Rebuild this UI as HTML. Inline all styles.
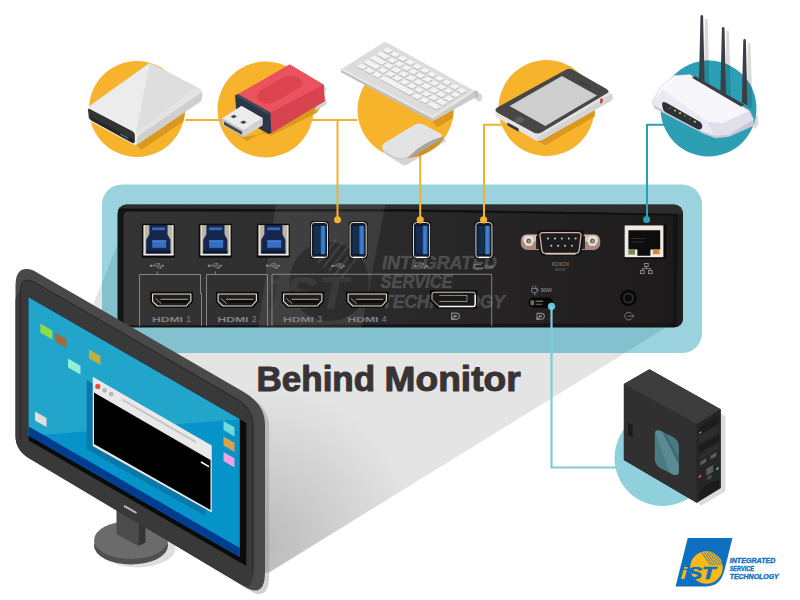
<!DOCTYPE html>
<html>
<head>
<meta charset="utf-8">
<title>Behind Monitor</title>
<style>
html,body{margin:0;padding:0;background:#fff;}
body{width:800px;height:600px;overflow:hidden;font-family:"Liberation Sans",sans-serif;}
svg{display:block;}
text{font-family:"Liberation Sans",sans-serif;}
</style>
</head>
<body>
<svg width="800" height="600" viewBox="0 0 800 600">
<defs>
  <radialGradient id="beamG" cx="258" cy="545" r="160" gradientUnits="userSpaceOnUse">
    <stop offset="0" stop-color="#b9b9b9"/>
    <stop offset="0.45" stop-color="#cdcdcd"/>
    <stop offset="1" stop-color="#e4e4e4"/>
  </radialGradient>
  <linearGradient id="panelG" x1="118" y1="0" x2="683" y2="0" gradientUnits="userSpaceOnUse">
    <stop offset="0" stop-color="#2f2f2f"/>
    <stop offset="0.55" stop-color="#262626"/>
    <stop offset="1" stop-color="#1b1b1b"/>
  </linearGradient>
  <clipPath id="blueClip"><rect x="102" y="184.5" width="600" height="168.5" rx="20"/></clipPath>
  <clipPath id="panelClip"><rect x="117.5" y="204.5" width="565.5" height="123" rx="9"/></clipPath>
  <clipPath id="c1z"><circle cx="325.8" cy="308.6" r="274.3"/></clipPath>
  <clipPath id="c5"><circle cx="708.5" cy="108.5" r="48"/></clipPath>

  <linearGradient id="faceG" x1="123" y1="0" x2="677" y2="0" gradientUnits="userSpaceOnUse">
    <stop offset="0" stop-color="#343434"/>
    <stop offset="0.4" stop-color="#2c2c2d"/>
    <stop offset="0.7" stop-color="#252324"/>
    <stop offset="1" stop-color="#1c1a1a"/>
  </linearGradient>
  <linearGradient id="blueBar" x1="0" y1="0" x2="1" y2="0">
    <stop offset="0" stop-color="#2a62ac"/>
    <stop offset="0.5" stop-color="#3f86d8"/>
    <stop offset="1" stop-color="#285fa8"/>
  </linearGradient>
  <pattern id="hatch" width="3" height="4" patternUnits="userSpaceOnUse" patternTransform="skewX(-30)">
    <rect width="3" height="4" fill="#2a2a2a"/>
    <rect width="1.4" height="4" fill="#303030"/>
  </pattern>

  <!-- USB-B port, 33x34 -->
  <symbol id="usbB" viewBox="0 0 33 34" overflow="visible">
    <rect x="0" y="0" width="33" height="34" rx="1" fill="#0a0a0a"/>
    <rect x="1.8" y="1.3" width="29.8" height="30.2" fill="#bdb5a8"/>
    <rect x="1.8" y="30" width="29.8" height="1.6" fill="#f0f0f0"/>
    <rect x="1.8" y="1.3" width="1.2" height="30" fill="#efe9dd"/>
    <rect x="30.4" y="1.3" width="1.2" height="30" fill="#efe9dd"/>
    <path d="M7.6 1.3 H25.7 V10.5 L28.6 16 V29.6 H4.4 V16 L7.6 10.5 Z" fill="#15264f"/>
    <path d="M4.4 27 H28.6 V29.6 H4.4 Z" fill="#0c1730"/>
    <rect x="10.4" y="3.6" width="13" height="2.8" fill="#3a69b4"/>
    <rect x="10.4" y="16.6" width="14" height="7.4" fill="#356fc6"/>
    <rect x="10.4" y="16.6" width="14" height="1.4" fill="#4a84d6"/>
  </symbol>

  <!-- USB-A vertical port, 18.7x37.8 -->
  <symbol id="usbA" viewBox="0 0 18.7 37.8" overflow="visible">
    <rect x="0" y="0" width="18.7" height="37.8" rx="3.2" fill="#0b0b0b"/>
    <rect x="1.3" y="1.3" width="16.1" height="35.2" rx="3" fill="#0f1a2b" stroke="#e6dcc8" stroke-width="1"/>
    <rect x="3.6" y="5" width="6.4" height="27.5" fill="#173258" opacity="0.8"/>
    <rect x="10.4" y="4.6" width="5" height="28.4" rx="0.8" fill="url(#blueBar)"/>
    <rect x="4" y="35.4" width="10.5" height="1.4" fill="#fff"/>
  </symbol>

  <!-- HDMI port, origin at outline top-left, 39.5x13 -->
  <symbol id="hdmi" viewBox="0 0 39.5 13" overflow="visible">
    <path d="M-1.6 -1.8 H41.1 V8 L35.5 14.6 H4 L-1.6 8.6 Z" fill="#0a0a0a"/>
    <path d="M0.6 0.5 H38.9 V7.4 L34.2 12.5 H5.4 L0.6 7.8 Z" fill="#1e1e1e" stroke="#ece3cf" stroke-width="1.1" stroke-linejoin="round"/>
    <path d="M8.5 5.8 H35.8" stroke="#cfc7b6" stroke-width="0.8"/>
    <path d="M8.5 6.4 H35.8 V9.6 H11 Z" fill="#0c0c0c"/>
    <path d="M3.5 5 L9 10" stroke="#cfc7b6" stroke-width="0.7"/>
  </symbol>

  <!-- USB trident symbol 30x12 -->
  <symbol id="usbSym" viewBox="0 0 30 12" overflow="visible">
    <g fill="none" stroke="#8e8e8e" stroke-width="1.5">
      <path d="M3 6 H26"/>
      <path d="M8 6 L12 2 H18"/>
      <path d="M13 6 L17 10 H21"/>
    </g>
    <g fill="#8e8e8e">
      <circle cx="3" cy="6" r="2.4"/>
      <path d="M25 3.2 L30 6 L25 8.8 Z"/>
      <circle cx="19" cy="2" r="1.8"/>
      <rect x="20.5" y="8.4" width="3.4" height="3.2"/>
    </g>
  </symbol>

  <!-- DisplayPort logo 9x7.5 -->
  <symbol id="dpLogo" viewBox="0 0 9 7.5" overflow="visible">
    <path d="M0.6 0.6 H4.6 Q8.4 0.6 8.4 3.75 Q8.4 6.9 4.6 6.9 H0.6 Z" fill="none" stroke="#868686" stroke-width="1.2"/>
    <path d="M2.6 2.6 H4.6 Q6 2.6 6 3.75 Q6 4.9 4.6 4.9 H2.6 Z" fill="#868686"/>
    <rect x="0" y="4.9" width="3.2" height="2.6" fill="#868686"/>
  </symbol>
  <clipPath id="c3z"><circle cx="376" cy="426.7" r="256"/></clipPath>
  <clipPath id="monShClip"><rect x="238" y="380" width="40" height="220"/></clipPath>
</defs>

<!-- ===== BACKDROP ===== -->
<g id="backdrop">
  <rect x="102" y="184.5" width="600" height="168.5" rx="20" fill="#9ad3de"/>
  <!-- beam outside blue -->
  <polygon points="132,207 670,207 670,325.3 268.7,572.7 250,572 83,330" fill="url(#beamG)"/>
  <!-- beam inside blue (darker blue) -->
  <g clip-path="url(#blueClip)">
    <polygon points="132,207 670,207 670,325.3 268.7,572.7 250,572 83,330" fill="#84c1ce"/>
  </g>
</g>

<!-- ===== PANEL ===== -->
<g id="panel">
  <rect x="117.5" y="204.5" width="565.5" height="123" rx="9" fill="#151515"/>
  <g clip-path="url(#panelClip)">
    <path d="M117.5 204.5 H683 V214 L400 209.2 L117.5 208.7 Z" fill="url(#hatch)"/>
    <path d="M117.5 208.7 L400 209.2 L683 214 V216 L400 211 L117.5 210.5 Z" fill="#101010"/>
  </g>
  <path d="M128.5 211.5 L400 211.8 L668.5 215.5 Q673 215.6 673 220.5 V318 Q673 323 668 323 L128.5 325.5 Q123.5 325.5 123.5 320.5 V216.5 Q123.5 211.5 128.5 211.5 Z" fill="url(#faceG)"/>
  

  <path d="M678 214 H683 V318 Q683 326 677 327.5 Z" fill="#1f1d1d" clip-path="url(#panelClip)"/>
  <!-- watermark -->
  <g id="wm" clip-path="url(#panelClip)">
    <path fill-rule="evenodd" d="M275.8 204 L385.5 204 L361.5 328 L258.2 328 Z M329 242 a39.5 39.5 0 1 0 0.01 0 Z" fill="#fff" opacity="0.085"/>
    <g fill="none" stroke="#fff" stroke-opacity="0.085" stroke-width="2.6">
      <path d="M336.5 239 L318 263 M342.5 242.5 L323.5 267 M348.5 246 L329 271 M354.5 249.5 L334.5 275 M360 254 L341 278"/>
    </g>
    <text x="285" y="308.5" font-size="46" font-weight="bold" font-style="italic" fill="#fff" fill-opacity="0.085" textLength="63" lengthAdjust="spacingAndGlyphs">ST</text>
    <text x="266" y="308.5" font-size="46" font-weight="bold" font-style="italic" fill="#000" fill-opacity="0.12">i</text>
    <g fill="#fff" fill-opacity="0.17" stroke="#fff" stroke-opacity="0.17" stroke-width="0.5" font-weight="bold" font-style="italic" font-size="18.5">
      <text x="382" y="269.4" textLength="115" lengthAdjust="spacingAndGlyphs">INTEGRATED</text>
      <text x="380.5" y="288.4" textLength="72" lengthAdjust="spacingAndGlyphs">SERVICE</text>
      <text x="382" y="307.8" textLength="123" lengthAdjust="spacingAndGlyphs">TECHNOLOGY</text>
    </g>
  </g>

  <!-- group boxes -->
  <g fill="none" stroke="#9c9c9c" stroke-width="0.8">
    <path d="M139.5 326 V274.5 H200.5 V293.5 H201.5 V326"/>
    <path d="M157.3 274.5 V271.5"/>
    <path d="M206.5 326 V274.5 H267.5 V326"/>
    <path d="M215.3 274.5 V271.5"/>
    <path d="M272 326 V274.3 H491.7 V326"/>
  </g>

  <!-- USB-B ports -->
  <use href="#usbB" x="141.8" y="223.8" width="33" height="34"/>
  <use href="#usbB" x="198.8" y="223.8" width="33" height="34"/>
  <use href="#usbB" x="256.8" y="223.8" width="33" height="34"/>
  <!-- USB-A ports -->
  <use href="#usbA" x="310.1" y="221.2" width="18.7" height="37.8"/>
  <use href="#usbA" x="348.8" y="221.2" width="18.7" height="37.8"/>
  <use href="#usbA" x="412.2" y="221.2" width="18.7" height="37.8"/>
  <use href="#usbA" x="474.6" y="221.2" width="18.7" height="37.8"/>
  <!-- USB symbols -->
  <use href="#usbSym" x="149.5" y="262.8" width="15" height="6"/>
  <use href="#usbSym" x="207.5" y="262.8" width="15" height="6"/>
  <use href="#usbSym" x="265.5" y="262.8" width="15" height="6"/>
  <use href="#usbSym" x="331" y="263" width="14.5" height="5.8"/>
  <use href="#usbSym" x="414" y="263" width="14.5" height="5.8"/>

  <!-- HDMI ports -->
  <use href="#hdmi" x="152" y="293.5" width="39.5" height="13"/>
  <use href="#hdmi" x="217.5" y="293.5" width="39.5" height="13"/>
  <use href="#hdmi" x="283" y="293.5" width="39.5" height="13"/>
  <use href="#hdmi" x="347.5" y="293.5" width="39.5" height="13"/>
  <g fill="#828282" font-weight="bold" font-size="7.8">
    <text x="152" y="321.8" textLength="31" lengthAdjust="spacingAndGlyphs">HDMI</text>
    <text x="217.5" y="321.8" textLength="31" lengthAdjust="spacingAndGlyphs">HDMI</text>
    <text x="283" y="321.8" textLength="31" lengthAdjust="spacingAndGlyphs">HDMI</text>
    <text x="347.5" y="321.8" textLength="31" lengthAdjust="spacingAndGlyphs">HDMI</text>
    <g font-weight="normal">
    <text x="186.3" y="321.9" font-size="8.6">1</text>
    <text x="251.8" y="321.9" font-size="8.6">2</text>
    <text x="317.3" y="321.9" font-size="8.6">3</text>
    <text x="381.8" y="321.9" font-size="8.6">4</text>
    </g>
  </g>

  <!-- DP port -->
  <g id="dp">
    <path d="M430 290 H477.2 V308.6 H437 L430 301 Z" fill="#0a0a0a"/>
    <path d="M434.5 292.2 H473.5 Q475.2 292.2 475.2 294 V304.6 Q475.2 306.5 473.5 306.5 H439 L432 299.5 V294 Q432 292.2 434.5 292.2 Z" fill="#1a1a1a" stroke="#d9d2c2" stroke-width="1"/>
    <path d="M439 306.5 H473.5 Q475.2 306.5 475.2 304.6 V295" fill="none" stroke="#fbfbfb" stroke-width="1.3"/>
    <path d="M439.5 295.5 H467 V301.5 H439.5" fill="none" stroke="#b9b3a6" stroke-width="0.7"/>
  </g>
  <use href="#dpLogo" x="451" y="312.5" width="9" height="7.5"/>
  <use href="#dpLogo" x="536.5" y="312.8" width="8.4" height="7"/>

  <!-- DB9 serial -->
  <g id="db9">
    <rect x="520.8" y="234.2" width="79.4" height="15.8" rx="6.5" fill="#a88b7e"/>
    <rect x="522.5" y="235.2" width="76" height="6" rx="3" fill="#d4beb2"/>
    <rect x="536" y="236" width="49" height="13" fill="#2a2626"/>
    <path d="M523.2 240.8 L526 236 L531.6 236 L534.4 240.8 L531.6 245.8 L526 245.8 Z" fill="#e9e1d8"/>
    <path d="M586.9 240.8 L589.7 236 L595.3 236 L598.1 240.8 L595.3 245.8 L589.7 245.8 Z" fill="#e9e1d8"/>
    <circle cx="528.8" cy="240.9" r="2.5" fill="#6b625c"/>
    <circle cx="592.5" cy="240.9" r="2.5" fill="#6b625c"/>
    <circle cx="529.2" cy="241.3" r="1.2" fill="#a89c94"/>
    <circle cx="592.9" cy="241.3" r="1.2" fill="#a89c94"/>
    <path d="M540.5 230.2 H580.5 Q584.4 230.2 583.8 234.5 L581.6 251 Q581 255.8 576.5 255.8 H544.5 Q540 255.8 539.4 251 L537.2 234.5 Q536.6 230.2 540.5 230.2 Z" fill="#111"/>
    <path d="M543 232.6 H578 Q581.4 232.6 581 235.6 L579.2 250 Q578.8 253.4 575.5 253.4 H545.5 Q542.2 253.4 541.8 250 L540 235.6 Q539.6 232.6 543 232.6 Z" fill="#1d1b1b" stroke="#cdb5aa" stroke-width="1.3"/>
    <path d="M545.5 254 H575.5" stroke="#e8cfc4" stroke-width="1.2"/>
    <g fill="#cfcfcf">
      <circle cx="548.1" cy="238.6" r="1"/><circle cx="555" cy="238.6" r="1"/><circle cx="561.9" cy="238.6" r="1"/><circle cx="568.8" cy="238.6" r="1"/><circle cx="575.6" cy="238.6" r="1"/>
      <circle cx="551.3" cy="245.7" r="1"/><circle cx="558.1" cy="245.7" r="1"/><circle cx="565" cy="245.7" r="1"/><circle cx="571.9" cy="245.7" r="1"/>
    </g>
  </g>
  <text x="551.6" y="266.4" font-size="6.2" fill="#8a8a8a" textLength="17.4" lengthAdjust="spacingAndGlyphs">IOIOI</text>
  <text x="555" y="270.8" font-size="2.8" fill="#777" textLength="10.6" lengthAdjust="spacingAndGlyphs">RS232</text>

  <!-- USB-C -->
  <g id="usbc">
    <rect x="528.6" y="297.6" width="24.4" height="10.2" rx="5" fill="#070707"/>
    <rect x="530.5" y="300.2" width="3.6" height="5" rx="1" fill="#b9b19c" opacity="0.6"/>
    <rect x="535.6" y="300.6" width="7.6" height="1.4" fill="#c9c1ac" opacity="0.55"/>
    <rect x="535.6" y="303.6" width="6.6" height="1.4" fill="#a9a18c" opacity="0.5"/>
  </g>
  <!-- 90W label -->
  <g fill="none" stroke="#9a9a9a" stroke-width="0.7">
    <path d="M533 285.5 V288.5 M535.8 285.5 V288.5 M531.6 288.5 H537.2 V291.2 Q537.2 292.6 535.4 292.6 H533.4 Q531.6 292.6 531.6 291.2 Z M534.4 292.6 V294.4 H536.2 M536.2 290 H539"/>
  </g>
  <text x="540.8" y="292" font-size="4.6" fill="#a0a0a0" textLength="11" lengthAdjust="spacingAndGlyphs">90W</text>
  <!-- 10W label -->
  <g fill="none" stroke="#9a9a9a" stroke-width="0.7">
    <path d="M474 264.4 H481 M474 264.4 V267.5 Q474 269 476 269 H482.5 M477.5 269 V270.2"/>
  </g>
  <text x="484" y="268.4" font-size="4.2" fill="#a0a0a0" textLength="9.5" lengthAdjust="spacingAndGlyphs">10W</text>

  <!-- RJ45 -->
  <g id="rj45">
    <rect x="624" y="224.8" width="42.4" height="34" fill="#0b0b0b"/>
    <rect x="624.6" y="225.4" width="38.8" height="31.8" fill="#f1eae4"/>
    <path d="M628.4 230.2 H660.2 V249.6 H650.4 V255.8 H637.4 V249.6 H628.4 Z" fill="#0d0d0d"/>
    <path d="M631 238.5 H645 M631 242 H644" stroke="#2e2e2e" stroke-width="1"/>
    
    <rect x="628.4" y="250" width="6.6" height="4.6" fill="#6f8c52"/>
    <rect x="653" y="249.6" width="6.6" height="4.6" fill="#e08426"/>
    
  </g>
  <!-- network icon -->
  <g fill="none" stroke="#9a9a9a" stroke-width="0.8">
    <rect x="644.6" y="263.4" width="3.6" height="3"/>
    <rect x="640.6" y="270.6" width="3.6" height="3"/>
    <rect x="648.6" y="270.6" width="3.6" height="3"/>
    <path d="M646.4 266.4 V268.6 M642.4 270.6 V268.6 H650.4 V270.6"/>
  </g>
  <!-- audio jack -->
  <circle cx="628.4" cy="298" r="8.2" fill="#070707"/>
  <circle cx="628.4" cy="298" r="5.6" fill="#2b2b2b"/>
  <circle cx="628.4" cy="298" r="3.6" fill="#0a0a0a"/>
  <g fill="none" stroke="#8e8e8e" stroke-width="0.8">
    <path d="M631.5 313.6 A3.8 3.8 0 1 0 631.5 318.6"/>
    <path d="M627.6 316.1 H634 M632.4 314.6 L634 316.1 L632.4 317.6"/>
  </g>
</g>

<!-- ===== DOTS ===== -->
<g id="dots">
  <circle cx="337.5" cy="219.8" r="3.5" fill="#f5b32b"/>
  <circle cx="420.2" cy="219.8" r="3.6" fill="#f5b32b"/>
  <circle cx="483.6" cy="219.8" r="3.6" fill="#f5b32b"/>
  <circle cx="646.6" cy="219.6" r="3.5" fill="#2b9fb3"/>
  <circle cx="551.5" cy="306.3" r="3.6" fill="#62c9e0"/>
</g>

<!-- ===== LINES ===== -->
<g id="lines" fill="none" stroke-width="2">
  <path d="M185 120H357.5M337.5 120V219" stroke="#f2b230"/>
  <path d="M420.2 155V219" stroke="#f2b230"/>
  <path d="M505 124.7H484V219" stroke="#f2b230" />
  <path d="M665 124.7H647V219" stroke="#2b9fb3"/>
  <path d="M551.5 306V467.5H617" stroke="#7fcbd9" stroke-width="2.2"/>
</g>

<!-- ===== CIRCLES ===== -->
<g id="circles">
  <circle cx="137" cy="109" r="48" fill="#f6b32b"/>
  <circle cx="265.5" cy="109.5" r="48" fill="#f6b32b"/>
  <circle cx="405.5" cy="110" r="48" fill="#f6b32b"/>
  <circle cx="546.5" cy="108" r="48" fill="#f6b32b"/>
  <g fill="#dadada">
    <path d="M705 19 L707.6 19 L709.4 80 L704 80 Z"/>
    <path d="M726.4 31 L729 31 L730.8 92 L725.4 92 Z"/>
    <path d="M747.8 43 L750.4 43 L752.4 103 L747 103 Z"/>
    <path d="M753 119 L757.5 114 L758.5 124 L754.5 130 Z"/>
  </g>
  <circle cx="708.5" cy="108.5" r="48" fill="#2d9fb4"/>
  <circle cx="662.5" cy="458" r="48" fill="#8fd0dc"/>
</g>


<!-- ===== DEVICES ===== -->
<!-- HDD : drawn in zoom coords of region (80,55,210,160) scale 5.715 -->
<g id="hdd" transform="translate(80,55) scale(0.174966)">
  <!-- shadow -->
  <path d="M322 516 L352 542 L640 345 L690 265 Z" fill="#d9981e" clip-path="url(#c1z)"/>
  <!-- right side -->
  <path d="M320 440 L665 182 Q700 200 700 228 L692 265 L322 516 Z" fill="#cfcfcf"/>
  <path d="M320 440 L665 182 Q690 195 697 212 L322 470 Z" fill="#e4e4e4"/>
  <!-- top face -->
  <path d="M45 298 L400 45 L667 181 L320 442 Z" fill="#dedede"/>
  <path d="M45 298 L400 45 L320 442 Z" fill="#ececec"/>
  <!-- front face frame -->
  <path d="M40 312 Q38 298 52 300 L312 436 Q326 444 326 460 L324 505 Q322 520 306 512 L62 380 Q46 372 45 358 Z" fill="#f2f2f2"/>
  <path d="M46 314 Q44 304 56 308 L300 436 Q314 444 314 458 L312 498 Q310 508 298 502 L66 374 Q52 366 50 354 Z" fill="#333"/>
  <path d="M50 350 L66 374 L298 502 L312 498 L312 486 L60 352 Z" fill="#262626"/>
  <rect x="0" y="0" width="46" height="5.5" fill="#3b93e0" transform="translate(230,449) skewY(28)"/>
</g>

<!-- USB stick : zoom coords of region (210,55,340,160) scale 5.715 -->
<g id="usb" transform="translate(210,55) scale(0.174966)">
  <!-- shadow -->
  <path d="M75 400 L210 492 L305 440 L350 462 L610 330 L655 265 L350 445 L190 468 Z" fill="#d9981e"/>
  <!-- end cap -->
  <path d="M645 175 L668 190 L652 222 L668 280 L598 322 Z" fill="#cfcfcf"/>
  <path d="M160 225 L455 55 L650 170 L655 265 L350 446 L345 330 Z" fill="#d8434f"/>
  <!-- red side -->
  <path d="M345 330 L650 170 L655 265 L350 446 Z" fill="#d8434f"/>
  <!-- red top -->
  <path d="M160 225 L455 55 L650 170 L345 330 Z" fill="#ea535d"/>
  <!-- inset oval -->
  <g transform="matrix(0.866,-0.5,0.866,0.5,0,0)">
  </g>
  <path d="M285 268 Q248 245 285 205 L410 132 Q470 105 515 135 Q548 160 500 195 L385 262 Q330 292 285 268 Z" fill="#dd4450"/>
  <!-- collar -->
  <path d="M143 230 L160 224 L346 330 L350 446 L334 452 L152 346 Z" fill="#2d3646"/>
  <path d="M143 230 L160 224 L346 330 L330 338 Z" fill="#3d4960"/>
  <path d="M70 362 L180 292 L300 360 L300 402 L190 468 L72 400 Z" fill="#d0d0d0"/>
  <!-- plug right side -->
  <path d="M190 428 L300 360 L300 402 L190 468 Z" fill="#d2d2d2"/>
  <!-- plug top -->
  <path d="M70 362 L180 292 L300 360 L190 428 Z" fill="#ececec"/>
  <!-- plug front -->
  <path d="M70 362 L190 428 L190 468 L72 400 Z" fill="#c4c4c4"/>
  <path d="M80 380 L182 437 L182 456 L80 398 Z" fill="#4a4a4a"/>
  <!-- holes -->
  <path d="M118 352 L138 342 L154 352 L134 362 Z" fill="#444"/>
  <path d="M172 384 L192 374 L210 384 L190 394 Z" fill="#444"/>
</g>


<!-- Keyboard : zoom coords of region (335,30,485,130) scale 5.333 -->
<g id="keyboard" transform="translate(335,30) scale(0.1875)">
  <!-- shadow on circle -->
  <path d="M518 486 L545 518 L680 440 L680 395 Z" fill="#d9981e" clip-path="url(#c3z)"/>
  <!-- tube end -->
  <ellipse cx="768" cy="360" rx="18" ry="22" fill="#d9d9d9"/>
  <ellipse cx="748" cy="343" rx="17" ry="21" fill="#bdbdbd"/>
  <!-- side wedge (short edge) -->
  <path d="M520 470 L745 325 L752 358 L520 488 Z" fill="#cbcbcb"/>
  <!-- front edge (long) -->
  <path d="M30 210 L520 470 L520 488 L34 226 Z" fill="#bfbfbf"/>
  <!-- top face -->
  <path d="M30 210 L258 67 Q266 62 276 67 L745 325 L520 470 Z" fill="#dcdcdc"/>
  <path d="M30 210 L520 470 L745 325 L735 320 L520 458 L44 206 Z" fill="#e8e8e8"/>
  <polygon points="278.6,98.8 308.5,115.0 283.8,130.2 253.9,114.0" fill="#bdbdbd"/>
  <polygon points="278.6,92.8 308.5,109.0 283.8,124.2 253.9,108.0" fill="#f3f3f3"/>
  <polygon points="318.1,120.2 348.0,136.4 323.3,151.6 293.4,135.4" fill="#bdbdbd"/>
  <polygon points="318.1,114.2 348.0,130.4 323.3,145.6 293.4,129.4" fill="#f3f3f3"/>
  <polygon points="357.6,141.6 387.4,157.7 362.8,173.0 332.9,156.8" fill="#bdbdbd"/>
  <polygon points="357.6,135.6 387.4,151.7 362.8,167.0 332.9,150.8" fill="#f3f3f3"/>
  <polygon points="397.0,162.9 426.9,179.1 402.3,194.4 372.4,178.2" fill="#bdbdbd"/>
  <polygon points="397.0,156.9 426.9,173.1 402.3,188.4 372.4,172.2" fill="#f3f3f3"/>
  <polygon points="436.5,184.3 466.4,200.5 441.8,215.8 411.9,199.6" fill="#bdbdbd"/>
  <polygon points="436.5,178.3 466.4,194.5 441.8,209.8 411.9,193.6" fill="#f3f3f3"/>
  <polygon points="476.0,205.7 505.9,221.9 481.2,237.1 451.4,221.0" fill="#bdbdbd"/>
  <polygon points="476.0,199.7 505.9,215.9 481.2,231.1 451.4,215.0" fill="#f3f3f3"/>
  <polygon points="515.5,227.1 545.4,243.3 520.7,258.5 490.8,242.3" fill="#bdbdbd"/>
  <polygon points="515.5,221.1 545.4,237.3 520.7,252.5 490.8,236.3" fill="#f3f3f3"/>
  <polygon points="555.0,248.5 584.9,264.7 560.2,279.9 530.3,263.7" fill="#bdbdbd"/>
  <polygon points="555.0,242.5 584.9,258.7 560.2,273.9 530.3,257.7" fill="#f3f3f3"/>
  <polygon points="594.5,269.9 624.4,286.1 599.7,301.3 569.8,285.1" fill="#bdbdbd"/>
  <polygon points="594.5,263.9 624.4,280.1 599.7,295.3 569.8,279.1" fill="#f3f3f3"/>
  <polygon points="634.0,291.3 663.9,307.5 639.2,322.7 609.3,306.5" fill="#bdbdbd"/>
  <polygon points="634.0,285.3 663.9,301.5 639.2,316.7 609.3,300.5" fill="#f3f3f3"/>
  <polygon points="673.5,312.7 703.4,328.9 678.7,344.1 648.8,327.9" fill="#bdbdbd"/>
  <polygon points="673.5,306.7 703.4,322.9 678.7,338.1 648.8,321.9" fill="#f3f3f3"/>
  <polygon points="244.0,120.1 294.2,147.3 269.5,162.5 219.4,135.3" fill="#bdbdbd"/>
  <polygon points="244.0,114.1 294.2,141.3 269.5,156.5 219.4,129.3" fill="#f3f3f3"/>
  <polygon points="303.8,152.5 331.7,167.6 307.0,182.8 279.1,167.7" fill="#bdbdbd"/>
  <polygon points="303.8,146.5 331.7,161.6 307.0,176.8 279.1,161.7" fill="#f3f3f3"/>
  <polygon points="341.3,172.8 369.1,187.8 344.4,203.1 316.6,188.0" fill="#bdbdbd"/>
  <polygon points="341.3,166.8 369.1,181.8 344.4,197.1 316.6,182.0" fill="#f3f3f3"/>
  <polygon points="378.7,193.0 406.6,208.1 381.9,223.4 354.0,208.3" fill="#bdbdbd"/>
  <polygon points="378.7,187.0 406.6,202.1 381.9,217.4 354.0,202.3" fill="#f3f3f3"/>
  <polygon points="416.2,213.3 444.0,228.4 419.4,243.7 391.5,228.6" fill="#bdbdbd"/>
  <polygon points="416.2,207.3 444.0,222.4 419.4,237.7 391.5,222.6" fill="#f3f3f3"/>
  <polygon points="453.6,233.6 481.5,248.7 456.8,263.9 429.0,248.9" fill="#bdbdbd"/>
  <polygon points="453.6,227.6 481.5,242.7 456.8,257.9 429.0,242.9" fill="#f3f3f3"/>
  <polygon points="491.1,253.9 519.0,269.0 494.3,284.2 466.4,269.1" fill="#bdbdbd"/>
  <polygon points="491.1,247.9 519.0,263.0 494.3,278.2 466.4,263.1" fill="#f3f3f3"/>
  <polygon points="528.6,274.2 556.4,289.3 531.8,304.5 503.9,289.4" fill="#bdbdbd"/>
  <polygon points="528.6,268.2 556.4,283.3 531.8,298.5 503.9,283.4" fill="#f3f3f3"/>
  <polygon points="566.0,294.5 593.9,309.6 569.2,324.8 541.4,309.7" fill="#bdbdbd"/>
  <polygon points="566.0,288.5 593.9,303.6 569.2,318.8 541.4,303.7" fill="#f3f3f3"/>
  <polygon points="603.5,314.8 631.4,329.9 606.7,345.1 578.8,330.0" fill="#bdbdbd"/>
  <polygon points="603.5,308.8 631.4,323.9 606.7,339.1 578.8,324.0" fill="#f3f3f3"/>
  <polygon points="641.0,335.1 668.8,350.2 644.2,365.4 616.3,350.3" fill="#bdbdbd"/>
  <polygon points="641.0,329.1 668.8,344.2 644.2,359.4 616.3,344.3" fill="#f3f3f3"/>
  <polygon points="209.5,141.4 273.5,176.1 248.8,191.3 184.8,156.6" fill="#bdbdbd"/>
  <polygon points="209.5,135.4 273.5,170.1 248.8,185.3 184.8,150.6" fill="#f3f3f3"/>
  <polygon points="283.1,181.3 313.6,197.8 288.9,213.0 258.4,196.5" fill="#bdbdbd"/>
  <polygon points="283.1,175.3 313.6,191.8 288.9,207.0 258.4,190.5" fill="#f3f3f3"/>
  <polygon points="323.2,203.0 353.7,219.5 329.0,234.7 298.5,218.2" fill="#bdbdbd"/>
  <polygon points="323.2,197.0 353.7,213.5 329.0,228.7 298.5,212.2" fill="#f3f3f3"/>
  <polygon points="363.3,224.7 393.8,241.2 369.1,256.4 338.6,239.9" fill="#bdbdbd"/>
  <polygon points="363.3,218.7 393.8,235.2 369.1,250.4 338.6,233.9" fill="#f3f3f3"/>
  <polygon points="403.4,246.4 433.9,262.9 409.2,278.2 378.7,261.6" fill="#bdbdbd"/>
  <polygon points="403.4,240.4 433.9,256.9 409.2,272.2 378.7,255.6" fill="#f3f3f3"/>
  <polygon points="443.5,268.1 473.9,284.7 449.3,299.9 418.8,283.4" fill="#bdbdbd"/>
  <polygon points="443.5,262.1 473.9,278.7 449.3,293.9 418.8,277.4" fill="#f3f3f3"/>
  <polygon points="483.5,289.9 514.0,306.4 489.4,321.6 458.9,305.1" fill="#bdbdbd"/>
  <polygon points="483.5,283.9 514.0,300.4 489.4,315.6 458.9,299.1" fill="#f3f3f3"/>
  <polygon points="523.6,311.6 554.1,328.1 529.4,343.3 499.0,326.8" fill="#bdbdbd"/>
  <polygon points="523.6,305.6 554.1,322.1 529.4,337.3 499.0,320.8" fill="#f3f3f3"/>
  <polygon points="563.7,333.3 594.2,349.8 569.5,365.0 539.0,348.5" fill="#bdbdbd"/>
  <polygon points="563.7,327.3 594.2,343.8 569.5,359.0 539.0,342.5" fill="#f3f3f3"/>
  <polygon points="603.8,355.0 634.3,371.5 609.6,386.7 579.1,370.2" fill="#bdbdbd"/>
  <polygon points="603.8,349.0 634.3,365.5 609.6,380.7 579.1,364.2" fill="#f3f3f3"/>
  <polygon points="174.9,162.7 244.4,200.3 219.7,215.5 150.3,177.9" fill="#bdbdbd"/>
  <polygon points="174.9,156.7 244.4,194.3 219.7,209.5 150.3,171.9" fill="#f3f3f3"/>
  <polygon points="254.0,205.5 282.9,221.2 258.2,236.4 229.3,220.7" fill="#bdbdbd"/>
  <polygon points="254.0,199.5 282.9,215.2 258.2,230.4 229.3,214.7" fill="#f3f3f3"/>
  <polygon points="292.5,226.4 321.4,242.1 296.7,257.3 267.8,241.6" fill="#bdbdbd"/>
  <polygon points="292.5,220.4 321.4,236.1 296.7,251.3 267.8,235.6" fill="#f3f3f3"/>
  <polygon points="331.0,247.3 359.9,262.9 335.2,278.1 306.3,262.5" fill="#bdbdbd"/>
  <polygon points="331.0,241.3 359.9,256.9 335.2,272.1 306.3,256.5" fill="#f3f3f3"/>
  <polygon points="369.5,268.1 398.4,283.8 373.8,299.0 344.8,283.3" fill="#bdbdbd"/>
  <polygon points="369.5,262.1 398.4,277.8 373.8,293.0 344.8,277.3" fill="#f3f3f3"/>
  <polygon points="408.0,289.0 437.0,304.7 412.3,319.9 383.4,304.2" fill="#bdbdbd"/>
  <polygon points="408.0,283.0 437.0,298.7 412.3,313.9 383.4,298.2" fill="#f3f3f3"/>
  <polygon points="446.6,309.9 475.5,325.5 450.8,340.7 421.9,325.1" fill="#bdbdbd"/>
  <polygon points="446.6,303.9 475.5,319.5 450.8,334.7 421.9,319.1" fill="#f3f3f3"/>
  <polygon points="485.1,330.7 514.0,346.4 489.3,361.6 460.4,345.9" fill="#bdbdbd"/>
  <polygon points="485.1,324.7 514.0,340.4 489.3,355.6 460.4,339.9" fill="#f3f3f3"/>
  <polygon points="523.6,351.6 552.5,367.3 527.9,382.5 498.9,366.8" fill="#bdbdbd"/>
  <polygon points="523.6,345.6 552.5,361.3 527.9,376.5 498.9,360.8" fill="#f3f3f3"/>
  <polygon points="562.1,372.5 599.7,392.8 575.1,408.0 537.5,387.7" fill="#bdbdbd"/>
  <polygon points="562.1,366.5 599.7,386.8 575.1,402.0 537.5,381.7" fill="#f3f3f3"/>
  <polygon points="140.4,184.0 171.5,200.9 146.8,216.1 115.7,199.3" fill="#bdbdbd"/>
  <polygon points="140.4,178.0 171.5,194.9 146.8,210.1 115.7,193.3" fill="#f3f3f3"/>
  <polygon points="181.1,206.1 212.2,222.9 187.6,238.2 156.4,221.3" fill="#bdbdbd"/>
  <polygon points="181.1,200.1 212.2,216.9 187.6,232.2 156.4,215.3" fill="#f3f3f3"/>
  <polygon points="221.8,228.1 253.0,245.0 228.3,260.2 197.2,243.4" fill="#bdbdbd"/>
  <polygon points="221.8,222.1 253.0,239.0 228.3,254.2 197.2,237.4" fill="#f3f3f3"/>
  <polygon points="262.6,250.2 424.4,337.9 399.7,353.1 237.9,265.4" fill="#bdbdbd"/>
  <polygon points="262.6,244.2 424.4,331.9 399.7,347.1 237.9,259.4" fill="#f3f3f3"/>
  <polygon points="434.0,343.1 465.1,359.9 440.4,375.1 409.3,358.3" fill="#bdbdbd"/>
  <polygon points="434.0,337.1 465.1,353.9 440.4,369.1 409.3,352.3" fill="#f3f3f3"/>
  <polygon points="474.7,365.1 505.8,382.0 481.1,397.2 450.0,380.3" fill="#bdbdbd"/>
  <polygon points="474.7,359.1 505.8,376.0 481.1,391.2 450.0,374.3" fill="#f3f3f3"/>
  <polygon points="515.4,387.2 565.2,414.1 540.5,429.4 490.7,402.4" fill="#bdbdbd"/>
  <polygon points="515.4,381.2 565.2,408.1 540.5,423.4 490.7,396.4" fill="#f3f3f3"/>
</g>

<!-- Mouse : zoom coords of region (360,105,480,185) scale 6.667 -->
<g id="mouse" transform="translate(360,105) scale(0.15)">
  <path d="M165 325 L285 400 Q300 405 320 395 L575 240 L548 210 L340 345 L260 368 Z" fill="#000" fill-opacity="0.17"/>
  <path d="M545 206 Q425 243 345 326 Q325 348 300 362 L335 350 Q380 332 400 312 L552 224 Z" fill="#a6a6a6"/>
  <path d="M150 290 Q138 268 170 248 L370 128 Q400 116 430 134 L535 188 Q556 203 540 214 Q420 250 340 330 Q300 372 258 366 Q200 350 165 322 Q154 305 150 290 Z" fill="#e3e3e3"/>
  <path d="M150 290 Q154 305 165 322 Q200 350 258 366 Q300 372 340 330 Q330 338 300 350 Q250 360 200 330 Q160 305 150 290 Z" fill="#cdcdcd"/>
</g>


<!-- Phone : zoom coords of region (485,55,625,160) scale 5.714 -->
<g id="phone" transform="translate(485,55) scale(0.175)">
  <!-- shadow -->
  <path d="M300 492 L345 515 L628 350 L628 310 Z" fill="#d9981e"/>
  <!-- body sides -->
  <path d="M58 325 Q56 350 75 362 L285 485 Q305 496 325 485 L722 262 Q730 256 730 240 L724 222 L700 205 L300 440 Z" fill="#e4e4e4"/>
  <path d="M300 470 L724 222 L730 240 Q730 256 722 262 L325 485 Q310 494 300 490 Z" fill="#d4d4d4"/>
  <!-- dark top face -->
  <path d="M75 297 L462 84 Q482 74 502 84 L695 194 Q716 207 695 220 L322 443 Q300 455 278 443 L70 329 Q46 313 75 297 Z" fill="#474747"/>
  <!-- screen -->
  <path d="M140 292 L440 120 L640 232 L345 405 Z" fill="#cecece"/>
  <!-- home button -->
  <ellipse cx="196" cy="370" rx="26" ry="17" fill="#5c5c5c"/>
  <!-- speaker -->
  <path d="M540 150 L600 184" stroke="#333" stroke-width="5" stroke-linecap="round"/>
  <!-- port -->
  <path d="M128 386 L192 420 L192 438 L128 402 Z" fill="#2f3441"/>
  <!-- red button -->
  <path d="M658 252 L672 246 L672 272 L658 278 Z" fill="#e03535"/>
  <!-- volume ticks -->
  <path d="M515 336 V350 M570 306 V320" stroke="#f4f4f4" stroke-width="3"/>
</g>


<!-- Router -->
<g id="router-ant">
  <g clip-path="url(#c5)" fill="#23899b">
    <path d="M705 19 L707.6 19 L709.4 85 L704 82 Z"/>
    <path d="M726.4 31 L729 31 L730.8 97 L725.4 94 Z"/>
    <path d="M747.8 43 L750.4 43 L752.4 109 L747 106 Z"/>
  </g>
  <g fill="#3b3e44">
    <path d="M700.5 15.8 Q701.8 14.2 703.1 15.8 L704.6 81.5 L699 79 Z"/>
    <path d="M721.9 27.8 Q723.2 26.2 724.5 27.8 L726 94 L720.4 91 Z"/>
    <path d="M743.3 39.8 Q744.6 38.2 745.9 39.8 L747.4 105.5 L741.8 102.5 Z"/>
  </g>
</g>
<!-- Router body: zoom coords of region (645,60,765,140) scale 6.667 -->
<g id="router" transform="translate(645,60) scale(0.15)">
  <path d="M48 275 L105 178 L195 102 L300 95 L700 338 L726 395 L722 440 L560 512 L470 522 L390 492 L62 322 Z" fill="#c9c7d8"/>
  <path d="M55 272 L112 190 L418 412 L470 505 L392 480 L58 300 Z" fill="#ebeaf3"/>
  <path d="M418 412 L520 418 L690 338 L722 398 L560 498 L470 505 Z" fill="#e1e0ea"/>
  <path d="M108 192 L198 106 L298 98 L692 338 L520 420 L418 414 Z" fill="#f7f6fb"/>
  <path d="M55 272 L108 180 L198 104 L210 108 L118 196 Z" fill="#fdfdff"/>
  <!-- antenna bar -->
  <path d="M313 118 L332 106 L662 296 L642 312 Z" fill="#3a3d43"/>
  <!-- LED panel -->
  <path d="M115 302 Q110 272 140 284 L365 412 Q386 426 381 448 Q375 472 348 460 L135 346 Q116 334 115 302 Z" fill="#2e3236"/>
  <ellipse cx="166" cy="320" rx="7" ry="6" fill="#4a6a40"/>
  <ellipse cx="200" cy="337" rx="8" ry="6" fill="#9fe04c"/>
  <ellipse cx="233" cy="354" rx="8" ry="6" fill="#f2dc4e"/>
  <ellipse cx="266" cy="373" rx="7" ry="6" fill="#4f7a42"/>
  <ellipse cx="300" cy="392" rx="7" ry="6" fill="#4a6a40"/>
  <ellipse cx="332" cy="411" rx="8" ry="6" fill="#9fe04c"/>
</g>


<!-- PC tower : zoom coords of region (610,360,730,520) scale 3.75 -->
<g id="pc" transform="translate(610,360) scale(0.266667)">
  <!-- shadow -->
  <path d="M415 200 L433 211 L433 492 L342 546 L325 535 Z" fill="#dcdcdc"/>
  <path d="M52 90 L148 35 L415 185 L415 480 L325 535 L52 375 Z" fill="#2e2e2e"/>
  <!-- top -->
  <path d="M52 90 L148 35 L415 185 L325 240 Z" fill="#3d3d3d"/>
  <!-- side -->
  <path d="M52 90 L325 240 L325 535 L52 375 Z" fill="#303030"/>
  <!-- front -->
  <path d="M325 240 L415 185 L415 480 L325 535 Z" fill="#262626"/>
  <!-- window -->
  <g transform="matrix(1,0.5,0,1,168,255)">
    <rect x="0" y="0" width="90" height="140" rx="22" fill="#4b7a82"/>
    <clipPath id="pcw"><rect x="0" y="0" width="90" height="140" rx="22"/></clipPath>
    <g clip-path="url(#pcw)">
      <path d="M-10 -10 L30 -10 L100 110 L100 150 L60 150 Z" fill="#5a8a92"/>
      <path d="M20 -10 L34 -10 L100 80 L100 104 Z" fill="#3e6a72"/>
    </g>
  </g>
  <!-- handle -->
  <path d="M68 236 L85 245 L85 290 L68 281 Z" fill="#1a1a1a"/>
  <!-- front details -->
  <g transform="matrix(1,-0.6,0,1,325,240)">
    <rect x="8" y="16" width="76" height="30" fill="#1d1d1d"/>
    <rect x="8" y="52" width="76" height="30" fill="#2d2d2d"/>
    <rect x="8" y="88" width="76" height="26" fill="#1d1d1d"/>
    <rect x="8" y="120" width="76" height="22" fill="#2d2d2d"/>
    <rect x="10" y="38" width="8" height="5" fill="#6fdc5a"/>
    <rect x="14" y="150" width="22" height="14" fill="#5e5e5e"/>
    <rect x="52" y="150" width="22" height="14" fill="#5e5e5e"/>
    <rect x="36" y="190" width="26" height="26" fill="#5a5a5a"/>
    <rect x="40" y="222" width="16" height="14" fill="#4a4a4a"/>
    <circle cx="12" cy="204" r="5" fill="#e8553a"/>
    <circle cx="78" cy="214" r="5" fill="#4fc24a"/>
    <path d="M8 262 Q45 240 84 262 L84 290 L8 290 Z" fill="#1b1b1b"/>
  </g>
</g>

<!-- ===== TEXT ===== -->
<g id="title" font-size="35.5" font-weight="bold" fill="#383435" stroke="#383435" stroke-width="1.1" stroke-linejoin="round">
  <text x="256.6" y="390.7" textLength="118.5" lengthAdjust="spacingAndGlyphs">Behind</text>
  <text x="384.6" y="390.7" textLength="136" lengthAdjust="spacingAndGlyphs">Monitor</text>
</g>

<!-- ===== MONITOR ===== -->
<g id="monitor">
  <!-- stand shadow -->
  <ellipse cx="137.5" cy="548" rx="38" ry="19.5" fill="#dedede"/>
  <!-- stand base -->
  <ellipse cx="131" cy="545.5" rx="37" ry="19" fill="#4f4f4f"/>
  <ellipse cx="131" cy="540" rx="37" ry="19" fill="#6b6b6b"/>
  <!-- neck -->
  <path d="M116.5 505 L138.5 517 L138.5 546 L116.5 534 Z" fill="#4b4b4b"/>
  <path d="M138.5 517 L145.5 513 L145.5 542.5 L138.5 546 Z" fill="#343434"/>
  <!-- soft shadow right -->
  <path d="M15.5 286 Q15.5 264 33 270.3 L243 391.5 Q265 404 265 424 L265 572 Q265 598 246 587.5 L29 458 Q15.5 450 15.5 436 Z" transform="translate(4.2,3.6)" fill="#8f8f8f" opacity="0.4" clip-path="url(#monShClip)"/>
  <!-- outer silhouette -->
  <path d="M15.5 286 Q15.5 264 33 270.3 L243 391.5 Q265 404 265 424 L265 572 Q265 598 246 587.5 L29 458 Q15.5 450 15.5 436 Z" fill="#494949"/>
  <!-- front face -->
  <path d="M20.5 292 Q20.5 275.5 34 282 L236 398.5 Q253 408.5 253 426 L253 574 Q253 592 240 584 L30 459 Q15.5 450.5 15.5 436 L15.5 300 Q17 292 20.5 292 Z" fill="#393939"/>
  <path d="M20.5 440 L20.5 292 Q20.5 275.5 34 282 L236 398.5 Q253 408.5 253 426 L253 574" fill="none" stroke="#2b2b2b" stroke-width="1.3"/>
  <!-- recess (black) -->
  <path d="M28.7 297.5 L246.3 423 L246.3 566 L28.7 440.5 Z" fill="#0b0b0b"/>
  <!-- screen -->
  <path d="M28.7 297.5 L239.8 419.3 L239.8 557 L28.7 435.5 Z" fill="#0593c9"/>
  <path d="M28.7 297.5 L239.8 419.3 L28.7 436 Z" fill="#22a5cb"/>
  <!-- taskbar -->
  <path d="M28.7 426.5 L239.8 548 L239.8 557 L28.7 435.5 Z" fill="#003d91"/>
  <!-- desktop icons -->
  <g>
    <path d="M40.4 323.5 L52.4 330.4 L52.4 339.6 L40.4 332.7 Z" fill="#8fdc4a"/>
    <path d="M55 332.5 L66.5 339.1 L66.5 348 L55 341.4 Z" fill="#a06a3c"/>
    <path d="M89 349.5 L100.5 356.1 L100.5 365 L89 358.4 Z" fill="#b9b240"/>
    <path d="M68 358.5 L80.5 365.7 L80.5 374.6 L68 367.4 Z" fill="#92f0d2"/>
    <path d="M35 411.5 L46.5 418.1 L46.5 427 L35 420.4 Z" fill="#dedede"/>
    <path d="M223.5 421 L234.5 427.3 L234.5 436.4 L223.5 430.1 Z" fill="#72d9d9"/>
    <path d="M223.5 436.5 L234.5 442.8 L234.5 451.9 L223.5 445.6 Z" fill="#d9a252"/>
    <path d="M223.5 452 L234.5 458.3 L234.5 467.4 L223.5 461.1 Z" fill="#f0a2e2"/>
  </g>
  <!-- window shadow -->
  <path d="M86.7 380 L205.7 448.7 L205.7 516 L86.7 449.5 Z" fill="#0a79aa"/>
  <!-- window -->
  <path d="M92.75 376.7 L211.75 445.4 L211.75 512.5 L92.75 446 Z" fill="#e9e9e9"/>
  <path d="M94 392.6 L210.5 459.9 L210.5 510 L94 444 Z" fill="#000"/>
  <circle cx="97.8" cy="386.4" r="2.6" fill="#e2543c"/>
  <circle cx="104.6" cy="390.3" r="2.4" fill="#b5b5b5"/>
  <circle cx="111.2" cy="394.1" r="2.4" fill="#b5b5b5"/>
  <path d="M122 399.5 L196 442.2" stroke="#c6c6c6" stroke-width="2"/>
  <path d="M201 462 L209 466.6" stroke="#fff" stroke-width="1.6"/>
  <!-- bezel logo -->
  <path d="M124 505.8 L136.5 513" stroke="#bdbdbd" stroke-width="2"/>
</g>



<!-- ===== IST LOGO : zoom coords of region (665,525,795,600) scale 6.154 -->
<g id="logo" transform="translate(665,525) scale(0.1625)">
  <path d="M140 80 L415 80 L365 282 Q340 378 255 378 L65 378 Z" fill="#0f6fc1"/>
  <circle cx="255" cy="262" r="100" fill="#f8b919"/>
  <clipPath id="lgc"><circle cx="255" cy="262" r="100"/></clipPath>
  <g clip-path="url(#lgc)" stroke="#0f6fc1" stroke-width="4.5">
    <path d="M226 168 L280 248 M241 168 L295 248 M256 168 L310 248 M271 168 L325 248 M286 168 L340 248 M301 168 L355 248"/>
  </g>
  <g font-weight="bold" font-style="italic" font-size="100">
    <text x="96" y="334" fill="#f8b919" textLength="40" lengthAdjust="spacingAndGlyphs">i</text>
    <text x="138" y="334" fill="#0f6fc1" textLength="172" lengthAdjust="spacingAndGlyphs" stroke="#0f6fc1" stroke-width="4">ST</text>
  </g>
  <g font-weight="bold" font-style="italic" font-size="43" fill="#0f6fc1" stroke="#0f6fc1" stroke-width="2.2">
    <text x="398" y="235" textLength="282" lengthAdjust="spacingAndGlyphs">INTEGRATED</text>
    <text x="398" y="282" textLength="150" lengthAdjust="spacingAndGlyphs">SERVICE</text>
    <text x="398" y="330" textLength="302" lengthAdjust="spacingAndGlyphs">TECHNOLOGY</text>
  </g>
</g>

</svg>
</body>
</html>
